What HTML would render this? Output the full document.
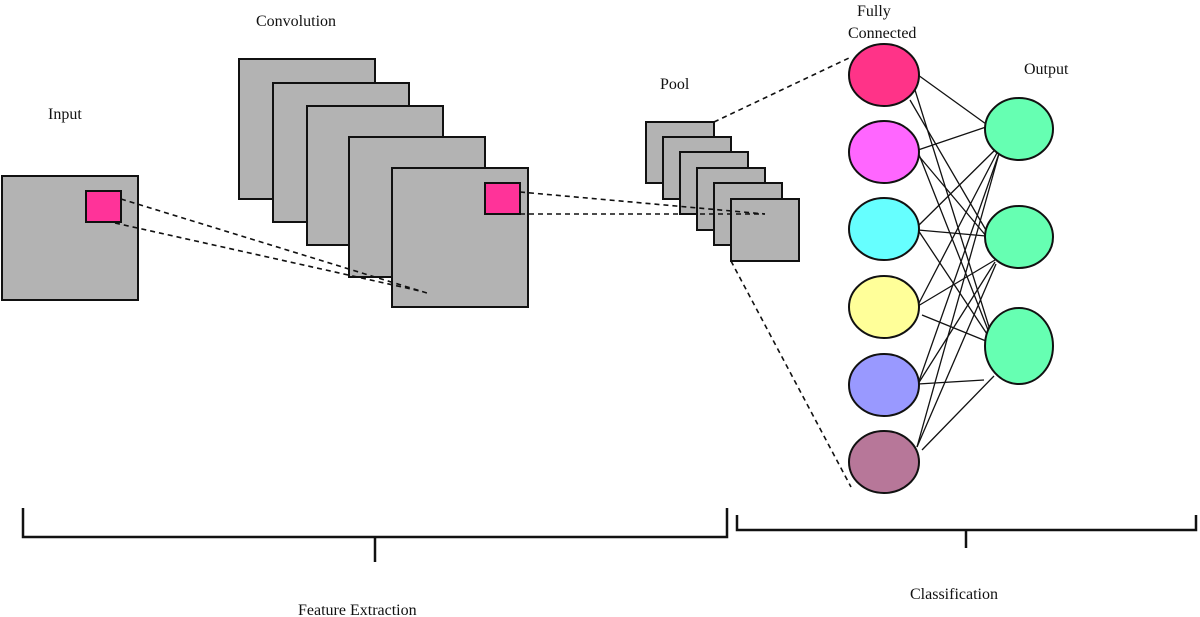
<!DOCTYPE html>
<html><head><meta charset="utf-8"><style>
html,body{margin:0;padding:0;background:#fff;width:1200px;height:617px;overflow:hidden}
svg text{font-family:"Liberation Serif",serif;font-size:16px;fill:#111}
</style></head><body>
<svg width="1200" height="617" viewBox="0 0 1200 617" xmlns="http://www.w3.org/2000/svg">
<g fill="#b3b3b3" stroke="#111" stroke-width="2">
<rect x="2" y="176" width="136" height="124"/>
<rect x="239" y="59" width="136" height="140"/>
<rect x="273" y="83" width="136" height="139"/>
<rect x="307" y="106" width="136" height="139"/>
<rect x="349" y="137" width="136" height="140"/>
<rect x="392" y="168" width="136" height="139"/>
<rect x="646" y="122" width="68" height="61"/>
<rect x="663" y="137" width="68" height="62"/>
<rect x="680" y="152" width="68" height="62"/>
<rect x="697" y="168" width="68" height="62"/>
<rect x="714" y="183" width="68" height="62"/>
<rect x="731" y="199" width="68" height="62"/>
</g>
<g fill="#ff3399" stroke="#111" stroke-width="2">
<rect x="86" y="191" width="35" height="31"/>
<rect x="485" y="183" width="35" height="31"/>
</g>
<g stroke="#111" stroke-width="1.6" stroke-dasharray="5,4" fill="none">
<line x1="121" y1="199" x2="427" y2="293"/>
<line x1="115" y1="223" x2="420" y2="291"/>
<line x1="520" y1="192" x2="765" y2="214"/>
<line x1="520" y1="214" x2="765" y2="214"/>
<line x1="714" y1="122" x2="849" y2="58"/>
<line x1="731" y1="261" x2="851" y2="487"/>
</g>
<g stroke="#111" stroke-width="1.3">
<line x1="918" y1="75" x2="986" y2="124"/>
<line x1="910" y1="100" x2="990" y2="237"/>
<line x1="915" y1="90" x2="990" y2="330"/>
<line x1="918" y1="150" x2="986" y2="127"/>
<line x1="918" y1="155" x2="987" y2="237"/>
<line x1="918" y1="152" x2="990" y2="335"/>
<line x1="918" y1="226" x2="1000" y2="145"/>
<line x1="918" y1="230" x2="986" y2="236"/>
<line x1="918" y1="230" x2="987" y2="334"/>
<line x1="918" y1="305" x2="1000" y2="147"/>
<line x1="918" y1="306" x2="995" y2="260"/>
<line x1="922" y1="315" x2="986" y2="341"/>
<line x1="918" y1="384" x2="1002" y2="145"/>
<line x1="918" y1="384" x2="995" y2="262"/>
<line x1="918" y1="384" x2="984" y2="380"/>
<line x1="917" y1="447" x2="1002" y2="143"/>
<line x1="917" y1="447" x2="996" y2="264"/>
<line x1="922" y1="450" x2="994" y2="376"/>
</g>
<g stroke="#111" stroke-width="2">
<ellipse cx="884" cy="75" rx="35" ry="31" fill="#ff3388"/>
<ellipse cx="884" cy="152" rx="35" ry="31" fill="#ff66ff"/>
<ellipse cx="884" cy="229" rx="35" ry="31" fill="#66ffff"/>
<ellipse cx="884" cy="307" rx="35" ry="31" fill="#ffff99"/>
<ellipse cx="884" cy="385" rx="35" ry="31" fill="#9999ff"/>
<ellipse cx="884" cy="462" rx="35" ry="31" fill="#b77799"/>
<ellipse cx="1019" cy="129" rx="34" ry="31" fill="#66ffb2"/>
<ellipse cx="1019" cy="237" rx="34" ry="31" fill="#66ffb2"/>
<ellipse cx="1019" cy="346" rx="34" ry="38" fill="#66ffb2"/>
</g>
<g stroke="#111" stroke-width="2.5" fill="none">
<polyline points="23,508 23,537 727,537 727,508"/>
<line x1="375" y1="537" x2="375" y2="562"/>
<polyline points="737,515 737,530 1196,530 1196,515"/>
<line x1="966" y1="530" x2="966" y2="548"/>
</g>
<text x="48" y="119">Input</text>
<text x="256" y="26">Convolution</text>
<text x="660" y="89">Pool</text>
<text x="857" y="16">Fully</text>
<text x="848" y="38">Connected</text>
<text x="1024" y="74">Output</text>
<text x="298" y="615">Feature Extraction</text>
<text x="910" y="599">Classification</text>
</svg>
</body></html>
